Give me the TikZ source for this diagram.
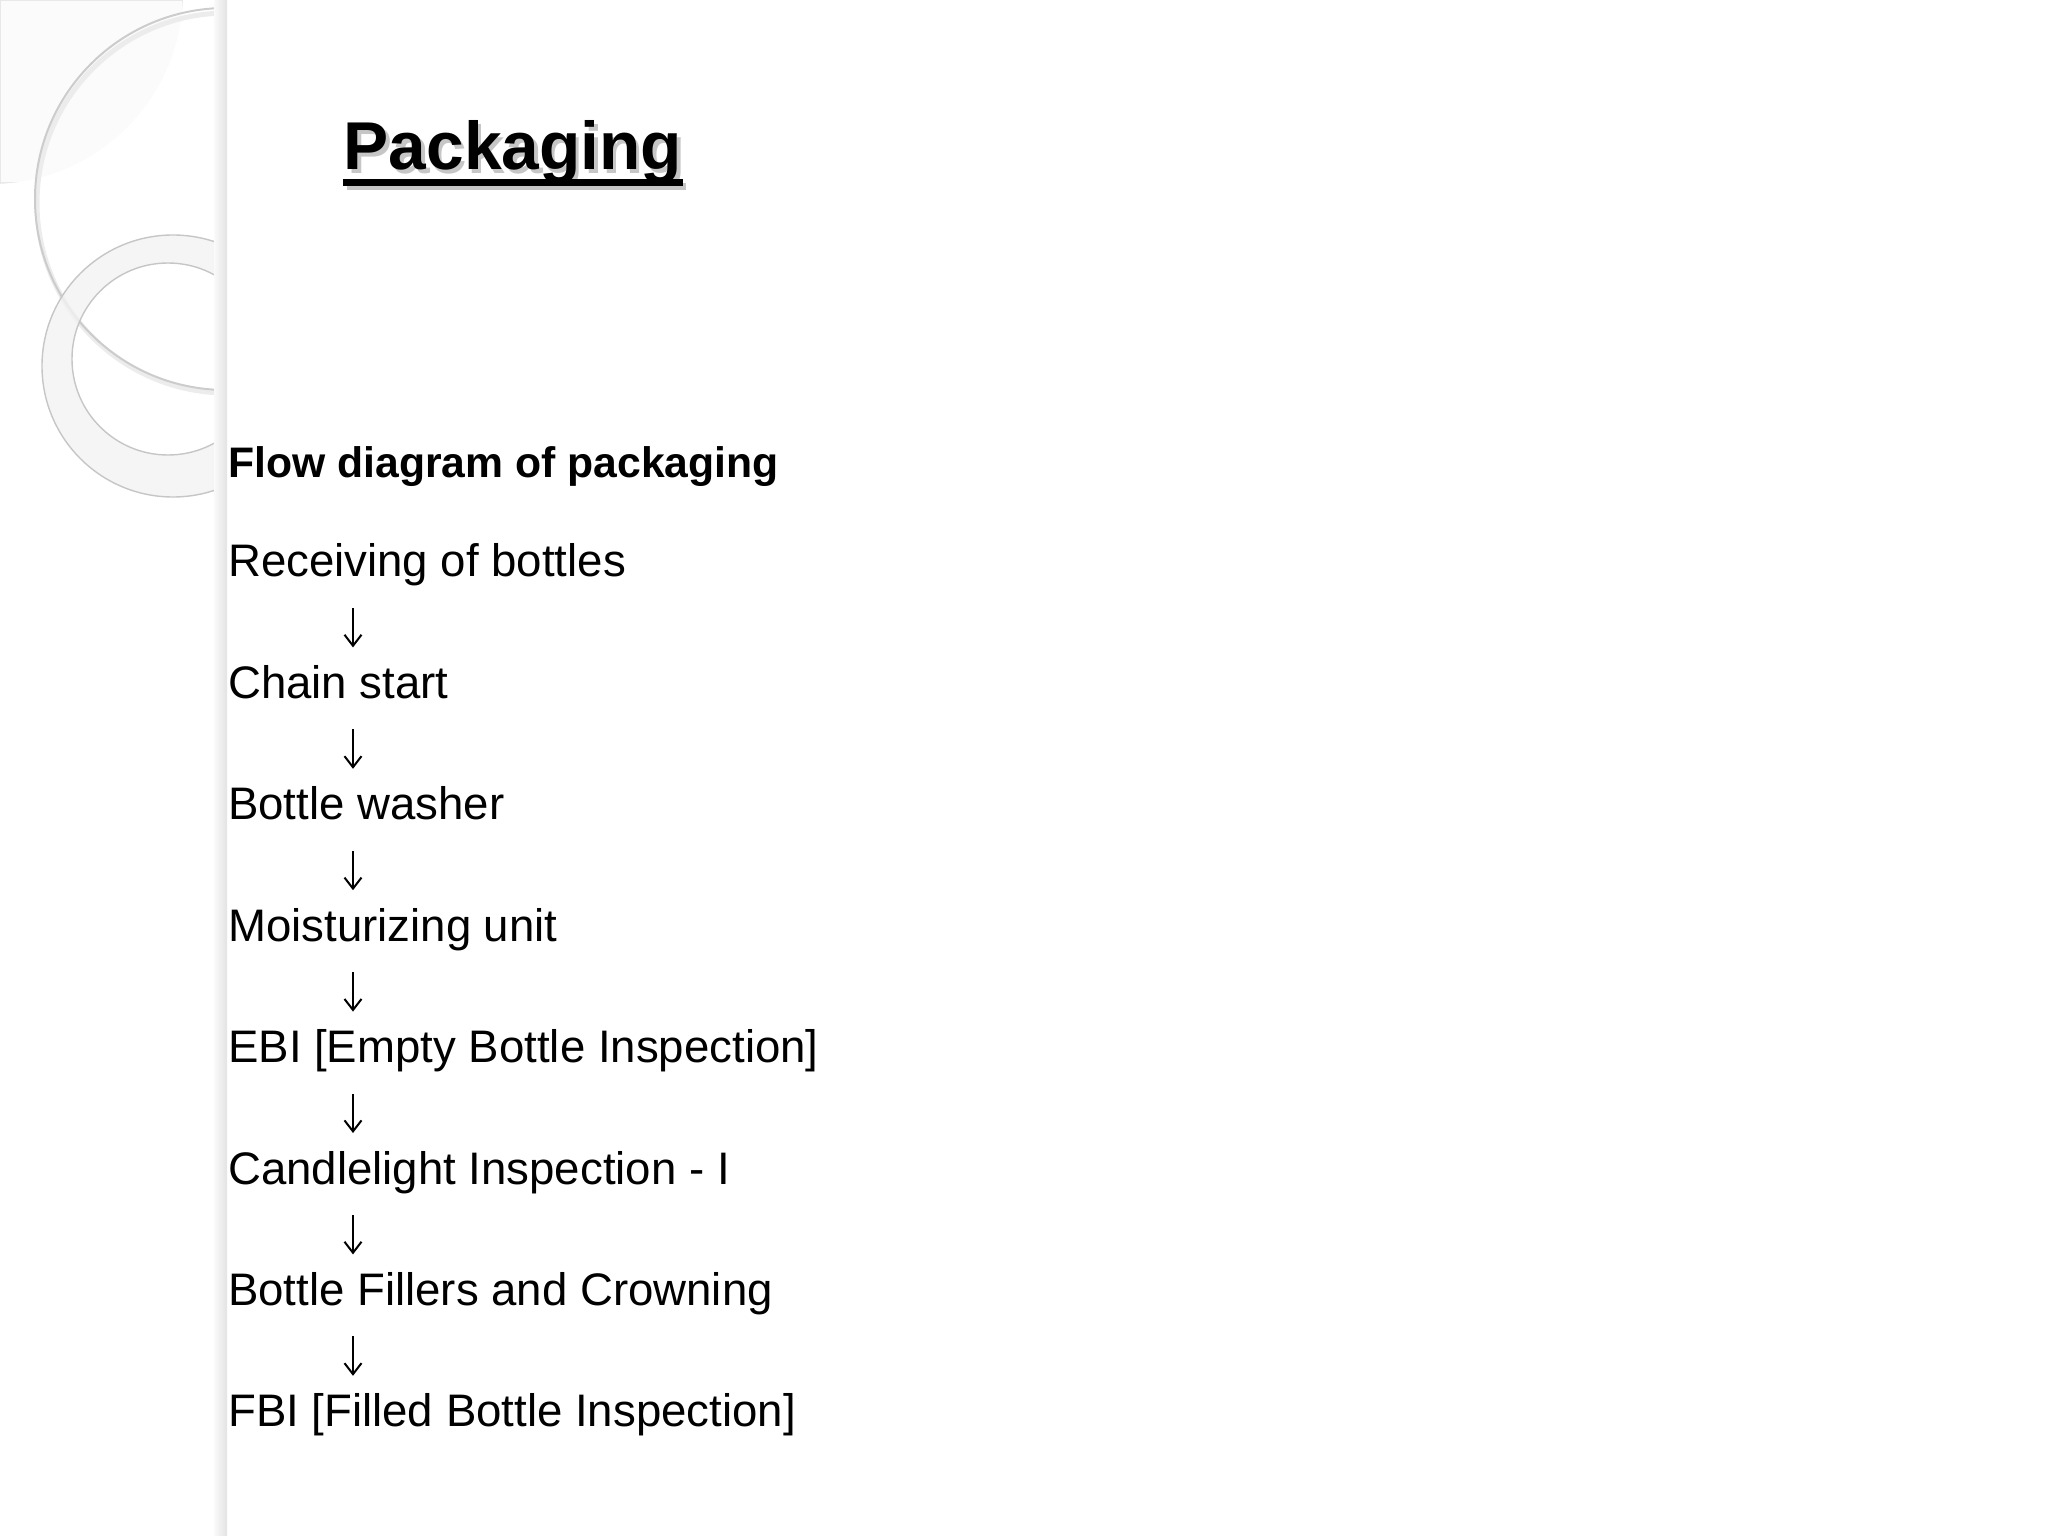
\documentclass[tikz,border=0pt]{standalone}
\usepackage{fontspec}
\setmainfont{Liberation Sans}
\usetikzlibrary{arrows.meta}

\begin{document}
\begin{tikzpicture}[item node/.style={anchor=base west,inner sep=0pt,font=\fontsize{12.97}{15}\selectfont},
  head node/.style={anchor=base west,inner sep=0pt,font=\fontsize{12.15}{14}\selectfont\bfseries},
  title node/.style={anchor=base west,inner sep=0pt,font=\fontsize{19.25}{23}\selectfont\bfseries},
  flow arrow/.style={-{Straight Barb[length=0.11cm,width=0.17cm]},line width=0.02cm}]
  \useasboundingbox (0,0) rectangle (20.48,-15.36);

  % left decoration
  \begin{scope}
    \clip (0,0) rectangle (2.2,-15.36);
    \begin{scope}
      \clip (-0.09,0.08) circle (1.92);
      \draw[gray!18,fill=gray!3] (0,0) rectangle (1.83,-1.83);
    \end{scope}
    \draw[gray!15,line width=0.05cm] (2.27,-2.03) circle (1.90);
    \draw[gray!40,line width=0.02cm] (2.26,-1.99) circle (1.91);
    \fill[gray!10,opacity=0.8,even odd rule] (1.73,-3.66) circle (1.31) (1.68,-3.59) circle (0.96);
    \draw[gray!45] (1.73,-3.66) circle (1.31) (1.68,-3.59) circle (0.96);
  \end{scope}
  \shade[left color=gray!4,right color=gray!22] (2.14,0) rectangle (2.27,-15.36);

  \node[title node,text=gray!45] at (3.465,-1.735) {Packaging};
  \node[title node] (title) at (3.43,-1.70) {Packaging};
  \draw[gray!45,line width=0.07cm] ([xshift=0.035cm,yshift=-0.165cm]title.base west) -- ([xshift=0.035cm,yshift=-0.165cm]title.base east);
  \draw[line width=0.07cm] ([yshift=-0.13cm]title.base west) -- ([yshift=-0.13cm]title.base east);

  \node[head node] (head) at (2.275,-4.78) {Flow diagram of packaging};

  \node[item node] (s1) at (2.275,-5.770) {Receiving of bottles};
  \node[item node] (s2) at (2.275,-6.984) {Chain start};
  \node[item node] (s3) at (2.275,-8.198) {Bottle washer};
  \node[item node] (s4) at (2.275,-9.412) {Moisturizing unit};
  \node[item node] (s5) at (2.275,-10.626) {EBI [Empty Bottle Inspection]};
  \node[item node] (s6) at (2.275,-11.840) {Candlelight Inspection - I};
  \node[item node] (s7) at (2.275,-13.054) {Bottle Fillers and Crowning};
  \node[item node] (s8) at (2.275,-14.268) {FBI [Filled Bottle Inspection]};

  \path[flow arrow]
  ([xshift=1.255cm,yshift=-0.31cm]s1.base west) edge ([xshift=1.255cm,yshift=0.51cm]s2.base west)
  ([xshift=1.255cm,yshift=-0.31cm]s2.base west) edge ([xshift=1.255cm,yshift=0.51cm]s3.base west)
  ([xshift=1.255cm,yshift=-0.31cm]s3.base west) edge ([xshift=1.255cm,yshift=0.51cm]s4.base west)
  ([xshift=1.255cm,yshift=-0.31cm]s4.base west) edge ([xshift=1.255cm,yshift=0.51cm]s5.base west)
  ([xshift=1.255cm,yshift=-0.31cm]s5.base west) edge ([xshift=1.255cm,yshift=0.51cm]s6.base west)
  ([xshift=1.255cm,yshift=-0.31cm]s6.base west) edge ([xshift=1.255cm,yshift=0.51cm]s7.base west)
  ([xshift=1.255cm,yshift=-0.31cm]s7.base west) edge ([xshift=1.255cm,yshift=0.51cm]s8.base west);
\end{tikzpicture}
\end{document}
